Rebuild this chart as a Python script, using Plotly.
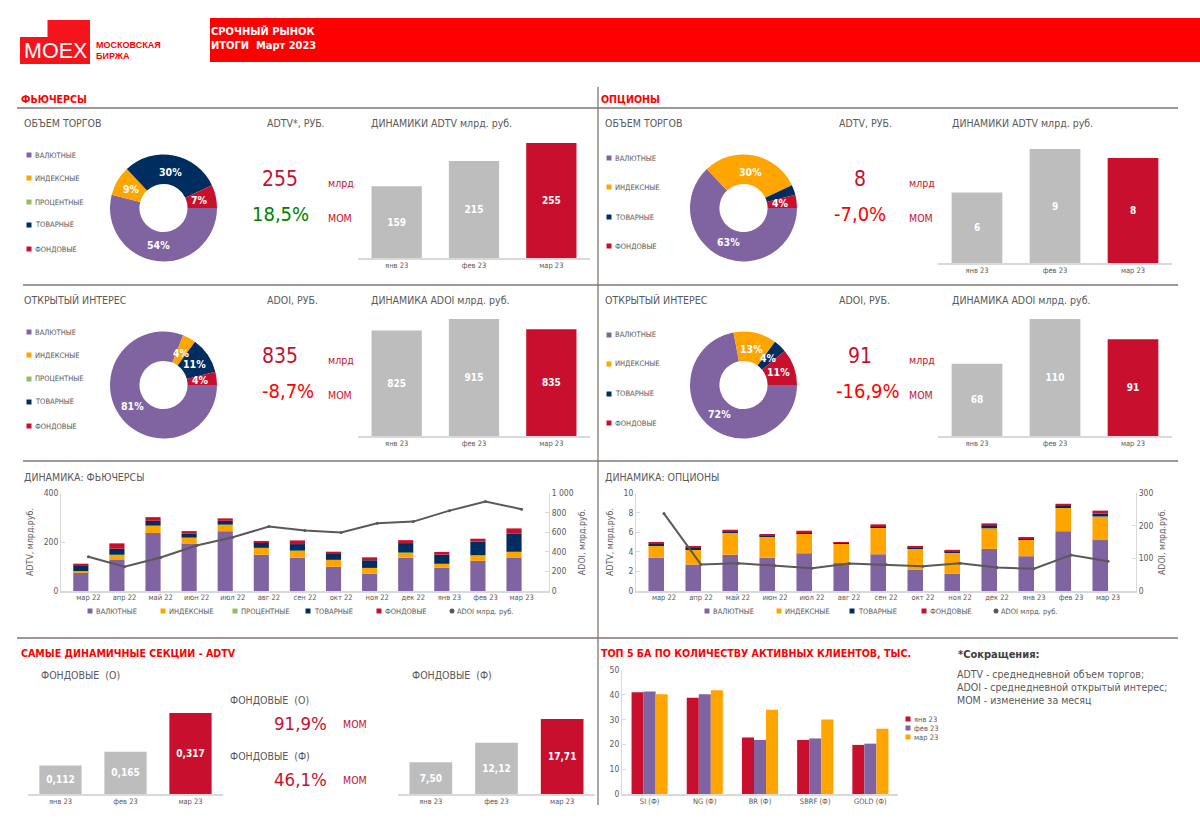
import numpy as np
import plotly.graph_objects as go

W, H = 1200, 821

#%% data
quarter = ["янв 23", "фев 23", "мар 23"]

fut_adtv = [159, 215, 255]
fut_adoi = [825, 915, 835]
opt_adtv = [5.5, 8.9, 8.2]
opt_adtv_labels = ["6", "9", "8"]
opt_adoi = [68, 110, 91]

sec_o = [0.112, 0.165, 0.317]
sec_o_labels = ["0,112", "0,165", "0,317"]
sec_f = [7.50, 12.12, 17.71]
sec_f_labels = ["7,50", "12,12", "17,71"]

fut_pie_names = ["ВАЛЮТНЫЕ", "ИНДЕКСНЫЕ", "ПРОЦЕНТНЫЕ", "ТОВАРНЫЕ", "ФОНДОВЫЕ"]
opt_pie_names = ["ВАЛЮТНЫЕ", "ИНДЕКСНЫЕ", "ТОВАРНЫЕ", "ФОНДОВЫЕ"]
fut_vol_share = [54, 9, 0, 30, 7]
fut_oi_share = [81, 4, 0, 11, 4]
opt_vol_share = [63, 30, 3, 4]
opt_oi_share = [72, 13, 4, 11]

months = ["мар 22", "апр 22", "май 22", "июн 22", "июл 22", "авг 22", "сен 22",
          "окт 22", "ноя 22", "дек 22", "янв 23", "фев 23", "мар 23"]

fut_val = [77, 129, 237, 194, 244, 148, 136, 99, 71, 136, 95, 123, 137]
fut_ind = [4, 19, 30, 24, 27, 28, 29, 28, 23, 21, 16, 23, 23]
fut_pro = [0.5, 0.5, 0.5, 0.5, 0.5, 0.5, 0.5, 0.5, 0.5, 0.5, 0.5, 0.5, 0.5]
fut_tov = [23, 24, 19, 15, 15, 21, 26, 25, 31, 38, 37, 55, 73]
fut_fon = [7, 22, 15, 11, 10, 6, 15, 8, 12, 12, 11, 12, 22]
fut_line = [349, 247, 342, 464, 549, 658, 617, 597, 692, 708, 820, 912, 835]

opt_val = [3.4, 2.7, 3.7, 3.4, 3.85, 2.85, 3.75, 2.2, 1.75, 4.3, 3.55, 6.1, 5.2]
opt_ind = [1.25, 1.55, 2.3, 2.2, 2.05, 2.0, 2.75, 2.15, 2.2, 2.1, 1.75, 2.4, 2.4]
opt_tov = [0.15, 0.2, 0.05, 0.1, 0.1, 0.05, 0.05, 0.05, 0.1, 0.3, 0.1, 0.2, 0.3]
opt_fon = [0.15, 0.05, 0.2, 0.1, 0.15, 0.1, 0.25, 0.2, 0.15, 0.2, 0.1, 0.2, 0.3]
opt_line = [237, 81, 85, 77, 70, 84, 81, 76, 85, 72, 68, 110, 91]

brokers = ["SI (Ф)", "NG (Ф)", "BR (Ф)", "SBRF (Ф)", "GOLD (Ф)"]
top_jan = [41, 38.8, 22.8, 21.8, 19.8]
top_feb = [41.3, 40.2, 21.8, 22.4, 20.3]
top_mar = [40.2, 41.8, 34, 30, 26.3]

#%% style
PURPLE = "#8064A2"
ORANGE = "#FFA500"
GREEN = "#9BBB59"
NAVY = "#002D5F"
RED = "#C8102E"
BRIGHT = "#FF0000"
GREY = "#BDBDBD"
TEXT = "#595959"
RULE = "#7F7672"
AXIS = "#D9D9D9"
FONT = "DejaVu Sans Condensed, Noto Sans"

fut_colors = [PURPLE, ORANGE, GREEN, NAVY, RED]
opt_colors = [PURPLE, ORANGE, NAVY, RED]

fig = go.Figure()
shapes = []
notes = []
axes = {}
n_axis = 0


def fx(x):
    return x / W


def fy(y):
    return 1 - y / H


def txt(x, y, s, size=10.5, color=TEXT, anchor="left", bold=False, family=FONT):
    notes.append(dict(x=fx(x), y=fy(y), xref="paper", yref="paper", text=s, showarrow=False,
                      xanchor=anchor, yanchor="middle", borderpad=0,
                      font=dict(family=family, size=size, color=color,
                                weight="bold" if bold else "normal")))


def rule(x0, y0, x1, y1):
    shapes.append(dict(type="line", xref="paper", yref="paper", x0=fx(x0), y0=fy(y0), x1=fx(x1),
                       y1=fy(y1), line=dict(color=RULE, width=1.3)))


def box(x0, y0, x1, y1, color):
    shapes.append(dict(type="rect", xref="paper", yref="paper", x0=fx(x0), y0=fy(y0), x1=fx(x1),
                       y1=fy(y1), fillcolor=color, line=dict(width=0)))


def key(x, y, color, label, size=7.5):
    box(x - 2.5, y - 2.5, x + 2.5, y + 2.5, color)
    txt(x + 5, y, label, size=size)


def new_axes(left, right, top, bottom, standoff=-1):
    # returns trace axis ids, layout axis names stay in the axes dict
    global n_axis
    n_axis += 1
    sx = "" if n_axis == 1 else str(n_axis)
    axes["xaxis" + sx] = dict(domain=[fx(left), fx(right)], anchor="y" + sx, type="category",
                              showgrid=False, ticks="", linecolor=AXIS, linewidth=1.5, showline=True,
                              ticklabelstandoff=standoff,
                              tickfont=dict(family=FONT, size=7.5, color=TEXT), zeroline=False)
    axes["yaxis" + sx] = dict(domain=[fy(bottom), fy(top)], anchor="x" + sx, showgrid=False,
                              zeroline=False)
    return "x" + sx, "y" + sx, sx


def small_bars(left, right, top, bottom, values, labels):
    xa, ya, sx = new_axes(left, right, top, bottom)
    axes["yaxis" + sx].update(visible=False, range=[0, max(values)])
    fig.add_trace(go.Bar(x=quarter, y=values, xaxis=xa, yaxis=ya, width=0.65,
                         marker=dict(color=[GREY, GREY, RED], line_width=0),
                         text=labels, textposition="inside", insidetextanchor="middle", textangle=0,
                         textfont=dict(family=FONT, size=10, color="white", weight="bold"),
                         cliponaxis=False))


def donut(cx, cy, r, names, values, colors, labels):
    fig.add_trace(go.Pie(labels=names, values=values, hole=0.45, sort=False, direction="clockwise",
                         rotation=90, marker=dict(colors=colors, line_width=0),
                         domain=dict(x=[fx(cx - r), fx(cx + r)], y=[fy(cy + r), fy(cy - r)]),
                         textinfo="none"))
    # plotly pushes labels to the rim of thin slices, so they sit mid ring here
    start = 0
    for v, lab in zip(values, labels):
        mid = np.radians((start + v / 2) * 3.6)
        start += v
        if lab:
            txt(cx + 37 * np.cos(mid), cy + 37 * np.sin(mid), lab, size=10.5, color="white",
                anchor="center", bold=True)


def dynamics(left, right, top, bottom, stacks, colors, line, line_max, line_tick, left_max, left_tick):
    xa, ya, sx = new_axes(left, right, top, bottom, standoff=-2)
    base = np.zeros(len(months))
    for vals, col in zip(stacks, colors):
        fig.add_trace(go.Bar(x=months, y=vals, base=base.tolist(), xaxis=xa, yaxis=ya, width=0.42,
                             offset=-0.42, marker=dict(color=col, line_width=0)))
        base = base + np.array(vals)
    axes["yaxis" + sx].update(range=[0, left_max], dtick=left_tick, ticks="inside", ticklen=4,
                              tickcolor=AXIS, showline=True, linecolor=AXIS,
                              tickfont=dict(family=FONT, size=8.5, color=TEXT),
                              title=dict(text="ADTV, млрд.руб.", standoff=8,
                                         font=dict(family=FONT, size=8.8, color=TEXT)))
    global n_axis
    n_axis += 1
    sy = str(n_axis)
    axes["yaxis" + sy] = dict(domain=[fy(bottom), fy(top)], anchor=xa, overlaying=ya, side="right",
                              range=[0, line_max], dtick=line_tick, tickformat=",d", ticks="inside",
                              ticklen=4, tickcolor=AXIS, showline=True, linecolor=AXIS, showgrid=False,
                              zeroline=False, tickfont=dict(family=FONT, size=8.5, color=TEXT),
                              title=dict(text="ADOI, млрд.руб.", standoff=6,
                                         font=dict(family=FONT, size=8.8, color=TEXT)))
    fig.add_trace(go.Scatter(x=months, y=line, xaxis=xa, yaxis="y" + sy, mode="lines+markers",
                             line=dict(color="#595959", width=2), marker=dict(size=3, color="#595959")))


#%% header
box(210, 18, 1200, 62, BRIGHT)
shapes.append(dict(type="path", xref="paper", yref="paper", fillcolor="#F5141B", line_width=0,
                   path="M {} {} L {} {} L {} {} L {} {} L {} {} L {} {} Z".format(
                       fx(47.5), fy(20), fx(90), fy(20), fx(90), fy(64), fx(20), fy(64),
                       fx(20), fy(37), fx(47.5), fy(37))))
txt(55.5, 51, "MOEX", size=21.5, color="white", anchor="center", family="Liberation Sans")
txt(94.5, 45, "МОСКОВСКАЯ", size=9, color=BRIGHT, bold=True, family="Liberation Sans")
txt(94.5, 55.5, "БИРЖА", size=9, color=BRIGHT, bold=True, family="Liberation Sans")
txt(210, 32, "СРОЧНЫЙ РЫНОК", size=11, color="white", bold=True)
txt(210, 45, "ИТОГИ  Март 2023", size=11, color="white", bold=True)

#%% frame
rule(17, 108, 1178, 108)
rule(23, 285, 1178, 285)
rule(23, 461, 1178, 461)
rule(17, 638, 1178, 638)
rule(598, 87, 598, 805)

txt(20, 99, "ФЬЮЧЕРСЫ", size=10.6, color=BRIGHT, bold=True)
txt(600, 99, "ОПЦИОНЫ", size=10.6, color=BRIGHT, bold=True)

#%% futures, options: top rows
txt(23, 123, "ОБЪЕМ ТОРГОВ")
txt(266, 123, "ADTV*, РУБ.")
txt(370, 123, "ДИНАМИКИ ADTV млрд. руб.")
txt(23, 300, "ОТКРЫТЫЙ ИНТЕРЕС")
txt(266, 300, "ADOI, РУБ.")
txt(370, 300, "ДИНАМИКА ADOI млрд. руб.")
txt(604, 123, "ОБЪЕМ ТОРГОВ")
txt(838, 123, "ADTV, РУБ.")
txt(951, 123, "ДИНАМИКИ ADTV млрд. руб.")
txt(604, 300, "ОТКРЫТЫЙ ИНТЕРЕС")
txt(838, 300, "ADOI, РУБ.")
txt(951, 300, "ДИНАМИКА ADOI млрд. руб.")

donut(163.5, 208, 53.5, fut_pie_names, fut_vol_share, fut_colors, ["54%", "9%", "", "30%", "7%"])
donut(163.5, 385, 53.5, fut_pie_names, fut_oi_share, fut_colors, ["81%", "4%", "", "11%", "4%"])
donut(743.5, 208, 53.5, opt_pie_names, opt_vol_share, opt_colors, ["63%", "30%", "", "4%"])
donut(743.5, 385, 53.5, opt_pie_names, opt_oi_share, opt_colors, ["72%", "13%", "4%", "11%"])

for y, name, col in zip([155, 178, 202, 225, 249], fut_pie_names, fut_colors):
    key(29, y, col, name)
for y, name, col in zip([332, 355, 379, 402, 426], fut_pie_names, fut_colors):
    key(29, y, col, name)
for y, name, col in zip([158, 187, 217, 246], opt_pie_names, opt_colors):
    key(609, y, col, name)
for y, name, col in zip([335, 364, 394, 423], opt_pie_names, opt_colors):
    key(609, y, col, name)

small_bars(358, 590, 143, 258, fut_adtv, ["159", "215", "255"])
small_bars(358, 590, 319, 436, fut_adoi, ["825", "915", "835"])
small_bars(938, 1172, 149, 263, opt_adtv, opt_adtv_labels)
small_bars(938, 1172, 319, 436, opt_adoi, ["68", "110", "91"])

for cx, mx, rows in [
    (280, 327, [(179, "255", RED, "млрд", 21, 280), (214, "18,5%", "#008000", "МОМ", 20, 280),
                (356, "835", RED, "млрд", 21, 280), (391, "-8,7%", BRIGHT, "МОМ", 20, 288)]),
    (860, 908, [(179, "8", RED, "млрд", 21, 860), (214, "-7,0%", BRIGHT, "МОМ", 20, 860),
                (356, "91", RED, "млрд", 21, 860), (391, "-16,9%", BRIGHT, "МОМ", 20, 868)]),
]:
    for y, big, col, unit, size, bx in rows:
        txt(bx, y, big, size=size, color=col, anchor="center")
        txt(mx, y + 4, unit, size=10.5, color=RED)

#%% monthly dynamics
txt(23, 477, "ДИНАМИКА: ФЬЮЧЕРСЫ")
txt(604, 477, "ДИНАМИКА: ОПЦИОНЫ")

dynamics(61, 549, 493, 591, [fut_val, fut_ind, fut_pro, fut_tov, fut_fon], fut_colors,
         fut_line, 1000, 200, 400, 200)
dynamics(636, 1136, 493, 591, [opt_val, opt_ind, opt_tov, opt_fon], opt_colors,
         opt_line, 300, 100, 10, 2)

for x, name, col in zip([90, 163, 235, 308, 379], fut_pie_names, fut_colors):
    key(x, 611, col, name)
for x, name, col in zip([707, 779, 852, 924], opt_pie_names, opt_colors):
    key(x, 611, col, name)
for x in [452, 996]:
    shapes.append(dict(type="circle", xref="paper", yref="paper", x0=fx(x - 2.5), y0=fy(613.5),
                       x1=fx(x + 2.5), y1=fy(608.5), fillcolor="#595959", line_width=0))
    txt(x + 4, 611, "ADOI млрд. руб.", size=7.5)

#%% bottom left
txt(20, 653, "САМЫЕ ДИНАМИЧНЫЕ СЕКЦИИ - ADTV", size=10.6, color=BRIGHT, bold=True)
txt(40, 675, "ФОНДОВЫЕ  (О)")
txt(411, 675, "ФОНДОВЫЕ  (Ф)")
small_bars(28, 223, 713, 794, sec_o, sec_o_labels)
small_bars(398, 595, 719, 794, sec_f, sec_f_labels)

txt(229, 700, "ФОНДОВЫЕ  (О)")
txt(300.5, 723, "91,9%", size=18.5, color=RED, anchor="center")
txt(342, 724, "МОМ", size=10.5, color=RED)
txt(229, 756, "ФОНДОВЫЕ  (Ф)")
txt(300.5, 779, "46,1%", size=18.5, color=RED, anchor="center")
txt(342, 780, "МОМ", size=10.5, color=RED)

#%% top 5 brokers
txt(600, 653, "ТОП 5 БА ПО КОЛИЧЕСТВУ АКТИВНЫХ КЛИЕНТОВ, ТЫС.", size=10.6, color=BRIGHT, bold=True)
xa, ya, sx = new_axes(622, 898, 670, 794)
axes["yaxis" + sx].update(range=[0, 50], dtick=10, ticks="inside", ticklen=4, tickcolor=AXIS,
                          showline=True, linecolor=AXIS,
                          tickfont=dict(family=FONT, size=8.5, color=TEXT))
for vals, col, off in zip([top_jan, top_feb, top_mar], [RED, PURPLE, ORANGE], [-0.327, -0.109, 0.109]):
    fig.add_trace(go.Bar(x=brokers, y=vals, xaxis=xa, yaxis=ya, width=0.218, offset=off,
                         marker=dict(color=col, line_width=0)))
for y, name, col in zip([719, 728, 737], quarter, [RED, PURPLE, ORANGE]):
    key(908, y, col, name)

txt(957, 654, "*Сокращения:", size=11, color="#404040", bold=True)
txt(956, 674, "ADTV - среднедневной объем торгов;")
txt(956, 687, "ADOI - среднедневной открытый интерес;")
txt(956, 700, "МОМ - изменение за месяц")

#%% figure
fig.update_layout(width=W, height=H, margin=dict(l=0, r=0, t=0, b=0, autoexpand=False),
                  paper_bgcolor="white", plot_bgcolor="white", barmode="overlay", showlegend=False,
                  separators=", ", shapes=shapes, annotations=notes, **axes)

fig.write_html("out.html", config={"displayModeBar": False},
               post_script="document.body.style.margin='0';document.body.style.overflow='hidden';")
